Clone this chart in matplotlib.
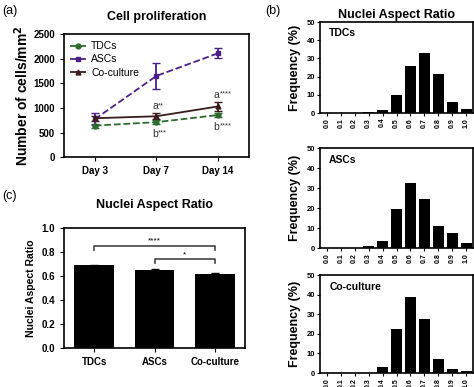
import matplotlib.pyplot as plt
from matplotlib.lines import Line2D

plt.rcParams['font.family'] = ['Liberation Sans', 'DejaVu Sans']

# (a) cell proliferation
days = ['Day 3', 'Day 7', 'Day 14']
tdc_mean = [640, 710, 855]
tdc_err = [40, 40, 45]
asc_mean = [770, 1650, 2110]
asc_err = [120, 260, 100]
co_mean = [790, 830, 1030]
co_err = [50, 60, 90]

# (c) mean aspect ratio
groups = ['TDCs', 'ASCs', 'Co-culture']
ratio_mean = [0.69, 0.65, 0.62]
ratio_err = [0.005, 0.005, 0.004]

# (b) histograms
bins = ['0.0', '0.1', '0.2', '0.3', '0.4', '0.5', '0.6', '0.7', '0.8', '0.9', '1.0']
freq_tdc = [0, 0, 0, 0.5, 1.5, 10, 26, 33, 21.5, 6, 2]
freq_asc = [0, 0, 0, 1, 3.5, 19.5, 32.5, 24.5, 11, 7.5, 2.5]
freq_co = [0, 0, 0, 0, 3, 22.5, 39, 27.5, 7, 2, 1]

colors = ['#2d6a2d', '#4a1f8a', '#3a1c1c']

fig = plt.figure(figsize=(4.74, 3.87), dpi=100)

# ---- panel a
ax = fig.add_axes([0.135, 0.594, 0.390, 0.318])
x = range(len(days))
ax.errorbar(x, tdc_mean, yerr=tdc_err, color=colors[0], marker='o', ms=3.5,
            ls='--', lw=1.3, capsize=3)
ax.errorbar(x, asc_mean, yerr=asc_err, color=colors[1], marker='s', ms=3.5,
            ls='--', lw=1.3, capsize=3)
ax.errorbar(x, co_mean, yerr=co_err, color=colors[2], marker='^', ms=3.5,
            ls='-', lw=1.3, capsize=3)
ax.set_xlim(-0.5, 2.5)
ax.set_ylim(0, 2500)
ax.set_yticks([0, 500, 1000, 1500, 2000, 2500])
ax.set_xticks(list(x))
ax.set_xticklabels(days, fontweight='bold', fontsize=7)
ax.tick_params(axis='y', labelsize=7, direction='out', length=3)
ax.tick_params(axis='x', direction='out', length=3)
for t in ax.get_yticklabels():
    t.set_fontweight('bold')
ax.set_ylabel('Number of cells/mm$^\\mathbf{2}$', fontsize=10, fontweight='bold', labelpad=2)
ax.set_title('Cell proliferation', fontsize=9, fontweight='bold', pad=10)
handles = [Line2D([], [], color=colors[0], marker='o', ms=3.5, lw=1.3),
           Line2D([], [], color=colors[1], marker='s', ms=3.5, lw=1.3),
           Line2D([], [], color=colors[2], marker='^', ms=3.5, lw=1.3)]
ax.legend(handles, groups, loc='upper left', frameon=False, fontsize=7.5,
          handlelength=1.3, borderaxespad=0.3, labelspacing=0.3, handletextpad=0.6)


def mark(xp, yp, letter, stars, above):
    base = 3 if above else -9
    ax.annotate(letter, (xp, yp), xytext=(1, base), textcoords='offset points',
                ha='right', va='baseline', fontsize=7.5, color='#333333')
    ax.annotate(stars, (xp, yp), xytext=(1, base + 1.5), textcoords='offset points',
                ha='left', va='baseline', fontsize=5.5, color='#333333')


mark(1, co_mean[1] + co_err[1], 'a', '**', True)
mark(1, tdc_mean[1] - tdc_err[1], 'b', '***', False)
mark(2, co_mean[2] + co_err[2], 'a', '****', True)
mark(2, tdc_mean[2] - tdc_err[2], 'b', '****', False)
for s in ax.spines.values():
    s.set_linewidth(1.2)
fig.text(0.005, 0.965, '(a)', fontsize=9)

# ---- panel c
axc = fig.add_axes([0.135, 0.101, 0.382, 0.310])
xc = range(len(groups))
axc.bar(xc, ratio_mean, yerr=ratio_err, width=0.66, color='black', capsize=3)
axc.set_xlim(-0.5, 2.5)
axc.set_ylim(0, 1.0)
axc.set_yticks([0, 0.2, 0.4, 0.6, 0.8, 1.0])
axc.set_yticklabels(['0.0', '0.2', '0.4', '0.6', '0.8', '1.0'], fontweight='bold', fontsize=7)
axc.set_xticks(list(xc))
axc.set_xticklabels(groups, fontweight='bold', fontsize=7)
axc.tick_params(direction='out', length=3)
axc.set_ylabel('Nuclei Aspect Ratio', fontsize=7.5, fontweight='bold')
axc.set_title('Nuclei Aspect Ratio', fontsize=9, fontweight='bold', pad=14)
for s in axc.spines.values():
    s.set_linewidth(1.2)
axc.plot([0, 0, 2, 2], [0.82, 0.85, 0.85, 0.82], color='#444444', lw=1.2)
axc.text(1, 0.86, '****', ha='center', va='bottom', fontsize=6)
axc.plot([1, 1, 2, 2], [0.71, 0.74, 0.74, 0.71], color='#444444', lw=1.2)
axc.text(1.5, 0.75, '*', ha='center', va='bottom', fontsize=6)
fig.text(0.005, 0.485, '(c)', fontsize=9)

# ---- panel b
rects = [[0.675, 0.708, 0.323, 0.235],
         [0.675, 0.359, 0.323, 0.258],
         [0.675, 0.036, 0.323, 0.253]]
for rect, freq, name in zip(rects, [freq_tdc, freq_asc, freq_co], groups):
    axb = fig.add_axes(rect)
    xb = range(len(bins))
    axb.bar(xb, freq, width=0.8, color='black')
    axb.set_xlim(-0.5, 10.5)
    axb.set_ylim(0, 50)
    axb.set_yticks([0, 10, 20, 30, 40, 50])
    axb.set_xticks(list(xb))
    axb.set_xticklabels(bins, rotation=90, fontsize=5, fontweight='bold')
    axb.tick_params(axis='y', labelsize=5.5, length=2.5, pad=1)
    axb.tick_params(axis='x', length=2.5, pad=1)
    for t in axb.get_yticklabels():
        t.set_fontweight('bold')
    axb.set_ylabel('Frequency (%)', fontsize=9, fontweight='bold', labelpad=4)
    axb.text(0.06, 0.93, name, transform=axb.transAxes, ha='left', va='top',
             fontsize=7.5, fontweight='bold')
    for s in axb.spines.values():
        s.set_linewidth(1.2)
    if name == 'TDCs':
        axb.set_title('Nuclei Aspect Ratio', fontsize=9, fontweight='bold', pad=3)
fig.text(0.56, 0.965, '(b)', fontsize=9)

fig.savefig('out.png', dpi=100)
